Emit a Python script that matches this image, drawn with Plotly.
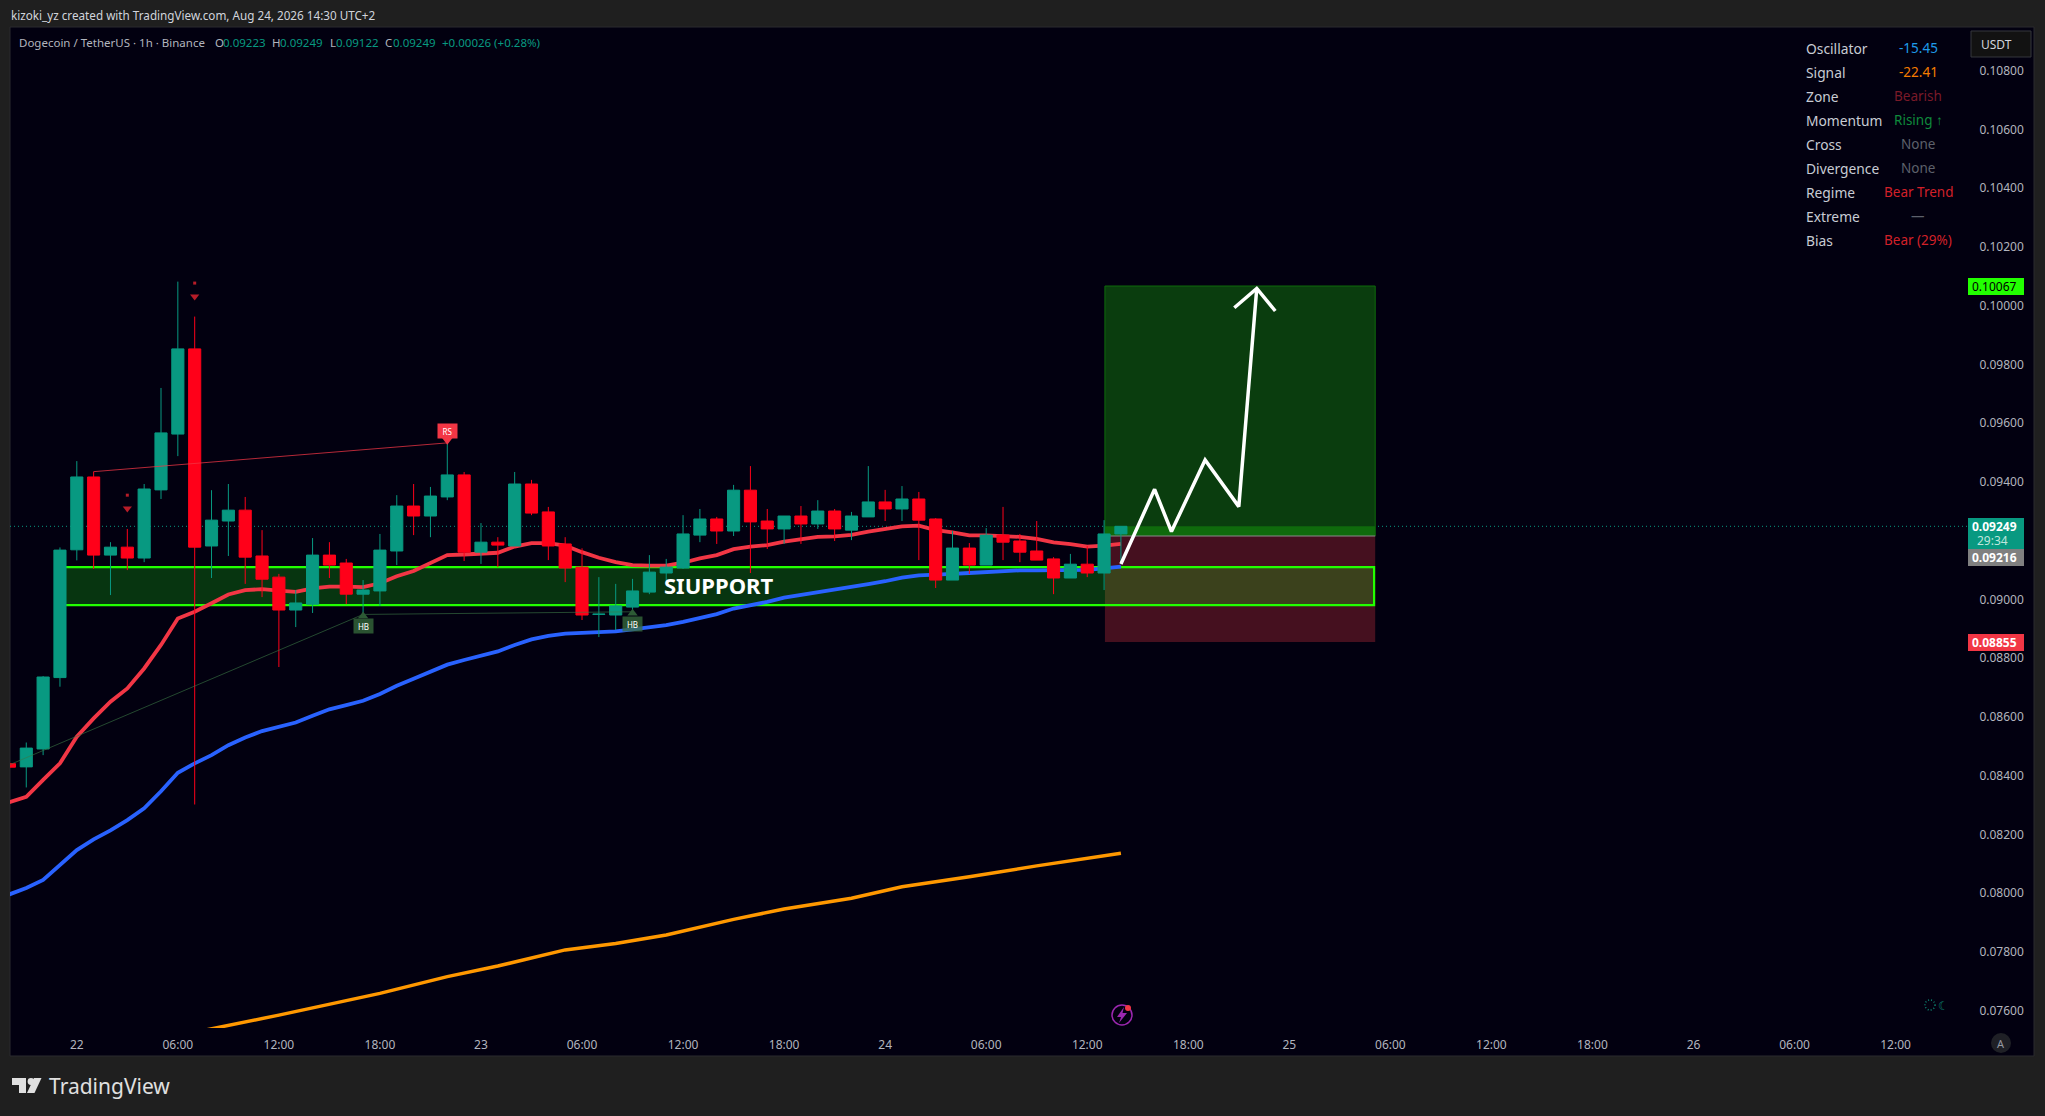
import pandas as pd
import plotly.graph_objects as go

FONT = "Noto Sans"
BG = "#020010"
UP = "#089981"
DOWN = "#ff0019"

# hourly candles, first one is Aug 21 20:00
times = pd.date_range("2026-08-21 20:00", periods=67, freq="h")
opens = [
    0.08441, 0.08430, 0.08491, 0.08734, 0.09169, 0.09417, 0.09151, 0.09178, 0.09141, 0.09373,
    0.09563, 0.09853, 0.09182, 0.09267, 0.09304, 0.09148, 0.09076, 0.08964, 0.08984, 0.09151,
    0.09124, 0.09018, 0.09029, 0.09165, 0.09318, 0.09284, 0.09349, 0.09424, 0.09161, 0.09195,
    0.09182, 0.09393, 0.09298, 0.09189, 0.09110, 0.08949, 0.08947, 0.08974, 0.09025, 0.09090,
    0.09107, 0.09219, 0.09274, 0.09233, 0.09372, 0.09267, 0.09240, 0.09284, 0.09257, 0.09301,
    0.09236, 0.09281, 0.09332, 0.09308, 0.09342, 0.09274, 0.09066, 0.09175, 0.09117, 0.09219,
    0.09199, 0.09165, 0.09138, 0.09073, 0.09120, 0.09090, 0.09223,
]
highs = [
    0.08445, 0.08513, 0.08739, 0.09177, 0.09471, 0.09435, 0.09195, 0.09240, 0.09393, 0.09720,
    0.10082, 0.09963, 0.09372, 0.09393, 0.09349, 0.09236, 0.09087, 0.09032, 0.09209, 0.09195,
    0.09138, 0.09066, 0.09223, 0.09355, 0.09393, 0.09383, 0.09531, 0.09434, 0.09260, 0.09212,
    0.09434, 0.09407, 0.09315, 0.09212, 0.09174, 0.09076, 0.09053, 0.09070, 0.09151, 0.09138,
    0.09287, 0.09308, 0.09281, 0.09390, 0.09454, 0.09308, 0.09284, 0.09318, 0.09338, 0.09308,
    0.09298, 0.09454, 0.09373, 0.09386, 0.09366, 0.09277, 0.09233, 0.09192, 0.09243, 0.09315,
    0.09223, 0.09267, 0.09144, 0.09155, 0.09182, 0.09270, 0.09249,
]
lows = [
    0.08425, 0.08360, 0.08470, 0.08703, 0.09133, 0.09104, 0.09015, 0.09100, 0.09127, 0.09342,
    0.09488, 0.08302, 0.09073, 0.09148, 0.09053, 0.09008, 0.08770, 0.08906, 0.08954, 0.09073,
    0.08984, 0.08947, 0.08978, 0.09117, 0.09219, 0.09212, 0.09338, 0.09131, 0.09121, 0.09110,
    0.09182, 0.09287, 0.09134, 0.09059, 0.08930, 0.08872, 0.08896, 0.08961, 0.09018, 0.09055,
    0.09104, 0.09195, 0.09189, 0.09216, 0.09090, 0.09172, 0.09189, 0.09189, 0.09240, 0.09199,
    0.09202, 0.09281, 0.09267, 0.09267, 0.09134, 0.09039, 0.09066, 0.09087, 0.09117, 0.09134,
    0.09127, 0.09134, 0.09018, 0.09073, 0.09076, 0.09032, 0.09122,
]
closes = [
    0.08429, 0.08494, 0.08736, 0.09168, 0.09417, 0.09151, 0.09178, 0.09141, 0.09376, 0.09567,
    0.09853, 0.09178, 0.09270, 0.09304, 0.09144, 0.09069, 0.08964, 0.08988, 0.09151, 0.09117,
    0.09018, 0.09032, 0.09168, 0.09318, 0.09284, 0.09352, 0.09424, 0.09161, 0.09195, 0.09185,
    0.09393, 0.09294, 0.09182, 0.09107, 0.08947, 0.08950, 0.08978, 0.09029, 0.09093, 0.09110,
    0.09223, 0.09274, 0.09233, 0.09372, 0.09264, 0.09240, 0.09284, 0.09257, 0.09301, 0.09240,
    0.09284, 0.09332, 0.09308, 0.09342, 0.09270, 0.09066, 0.09175, 0.09117, 0.09219, 0.09195,
    0.09161, 0.09134, 0.09073, 0.09120, 0.09090, 0.09223, 0.09249,
]
ema_red = [
    0.08310, 0.08328, 0.08386, 0.08442, 0.08533, 0.08595, 0.08652, 0.08697, 0.08765, 0.08845,
    0.08935, 0.08958, 0.08987, 0.09017, 0.09032, 0.09035, 0.09030, 0.09026, 0.09038, 0.09044,
    0.09044, 0.09042, 0.09055, 0.09079, 0.09097, 0.09123, 0.09151, 0.09153, 0.09157, 0.09159,
    0.09180, 0.09192, 0.09192, 0.09183, 0.09161, 0.09142, 0.09127, 0.09117, 0.09115, 0.09115,
    0.09125, 0.09140, 0.09151, 0.09171, 0.09180, 0.09185, 0.09197, 0.09205, 0.09213, 0.09215,
    0.09220, 0.09231, 0.09239, 0.09249, 0.09251, 0.09236, 0.09228, 0.09218, 0.09218, 0.09215,
    0.09213, 0.09206, 0.09194, 0.09188, 0.09180, 0.09183, 0.09189,
]
ema_blue = [
    0.07996, 0.08018, 0.08045, 0.08098, 0.08147, 0.08183, 0.08214, 0.08249, 0.08289, 0.08347,
    0.08410, 0.08442, 0.08470, 0.08504, 0.08530, 0.08552, 0.08567, 0.08581, 0.08604, 0.08626,
    0.08640, 0.08655, 0.08678, 0.08706, 0.08730, 0.08754, 0.08778, 0.08794, 0.08808, 0.08823,
    0.08845, 0.08864, 0.08876, 0.08884, 0.08886, 0.08888, 0.08891, 0.08898, 0.08905, 0.08913,
    0.08924, 0.08938, 0.08950, 0.08969, 0.08980, 0.08992, 0.09006, 0.09015, 0.09025, 0.09032,
    0.09040, 0.09052, 0.09062, 0.09074, 0.09082, 0.09083, 0.09087, 0.09090, 0.09093, 0.09097,
    0.09099, 0.09099, 0.09099, 0.09100, 0.09101, 0.09106, 0.09112,
]
ema_orange_t = [
    "2026-08-22 06:00", "2026-08-22 08:00", "2026-08-22 12:00", "2026-08-22 18:00", "2026-08-22 22:00",
    "2026-08-23 01:00", "2026-08-23 05:00", "2026-08-23 08:00", "2026-08-23 11:00", "2026-08-23 15:00",
    "2026-08-23 18:00", "2026-08-23 22:00", "2026-08-24 01:00", "2026-08-24 05:00", "2026-08-24 09:00",
    "2026-08-24 14:00",
]
ema_orange = [
    0.07515, 0.07538, 0.07585, 0.07659, 0.07716, 0.07752, 0.07807, 0.07829, 0.07858, 0.07911,
    0.07946, 0.07983, 0.08022, 0.08056, 0.08093, 0.08136,
]

# hand drawn path and its arrow head
path_t = ["2026-08-24 14:00", "2026-08-24 16:00", "2026-08-24 17:00", "2026-08-24 19:00", "2026-08-24 21:00", "2026-08-24 22:04"]
path_p = [0.09121, 0.09375, 0.09231, 0.09475, 0.09316, 0.10059]
head_t = ["2026-08-24 20:44", "2026-08-24 22:04", "2026-08-24 23:10"]
head_p = [0.09993, 0.10059, 0.09982]

rs_line_t = ["2026-08-22 01:00", "2026-08-22 22:00"]
rs_line_p = [0.09435, 0.09533]
hb_line_t = ["2026-08-21 20:00", "2026-08-22 17:00", "2026-08-23 09:00"]
hb_line_p = [0.08437, 0.08949, 0.08958]

# support box and long position
support_top, support_bottom = 0.09110, 0.08981
support_start, support_end = "2026-08-21 23:00", "2026-08-25 05:02"
pos_start, pos_end = "2026-08-24 13:03", "2026-08-25 05:06"
pos_target, pos_entry, pos_stop = 0.10067, 0.09216, 0.08855
last_price = 0.09249

price_ticks = [0.108, 0.106, 0.104, 0.102, 0.100, 0.098, 0.096, 0.094, 0.090, 0.088, 0.086, 0.084, 0.082, 0.080, 0.078, 0.076]
time_ticks = pd.date_range("2026-08-22 00:00", "2026-08-26 12:00", freq="6h")
time_labels = ["22", "06:00", "12:00", "18:00", "23", "06:00", "12:00", "18:00", "24", "06:00", "12:00", "18:00",
               "25", "06:00", "12:00", "18:00", "26", "06:00", "12:00"]

table_rows = ["Oscillator", "Signal", "Zone", "Momentum", "Cross", "Divergence", "Regime", "Extreme", "Bias"]
table_values = ["-15.45", "-22.41", "Bearish", "Rising ↑", "None", "None", "Bear Trend", "—", "Bear (29%)"]
table_colors = ["#1e9be8", "#f57c00", "#7a1a28", "#0f8a3c", "#5d606b", "#5d606b", "#d32029", "#5d606b", "#d32029"]

legend_parts = [
    ("Dogecoin / TetherUS · 1h · Binance", 18, "#b2b5be"), ("O", 214, "#b2b5be"), ("0.09223", 222, UP),
    ("H", 271, "#b2b5be"), ("0.09249", 279, UP), ("L", 329, "#b2b5be"), ("0.09122", 335, UP),
    ("C", 384, "#b2b5be"), ("0.09249", 392, UP), ("+0.00026 (+0.28%)", 441, UP),
]

# plot area in page pixels
W, H = 2045, 1116
L, R, T, B = 10, 1968, 28, 1028


def fx(px):
    return (px - L) / (R - L)


def fy(py):
    return 1 - (py - T) / (B - T)


def page_text(text, px, py, size=12, color="#d1d4dc", anchor="left", bold=False):
    return dict(
        text=f"<b>{text}</b>" if bold else text, x=fx(px), y=fy(py), xref="paper", yref="paper",
        xanchor=anchor, yanchor="middle", showarrow=False, borderpad=0,
        font=dict(family=FONT, size=size, color=color),
    )


def page_rect(x0, y0, x1, y1, fill, line=None, layer="above"):
    return dict(
        type="rect", xref="paper", yref="paper", x0=fx(x0), x1=fx(x1), y0=fy(y0), y1=fy(y1),
        fillcolor=fill, line=dict(color=line or fill, width=1 if line else 0), layer=layer,
    )


def page_circle(cx, cy, r, fill, line=None, dash=None):
    return dict(
        type="circle", xref="paper", yref="paper", x0=fx(cx - r), x1=fx(cx + r), y0=fy(cy - r), y1=fy(cy + r),
        fillcolor=fill, line=dict(color=line or fill, width=1.5 if line else 0, dash=dash), layer="above",
    )


def page_path(points, fill):
    d = "M" + " L".join(f"{fx(x)},{fy(y)}" for x, y in points) + " Z"
    return dict(type="path", xref="paper", yref="paper", path=d, fillcolor=fill, line=dict(width=0), layer="above")


def data_rect(x0, x1, y0, y1, fill, line_color=None, width=0):
    return dict(
        type="rect", xref="x", yref="y", x0=x0, x1=x1, y0=y0, y1=y1, fillcolor=fill,
        line=dict(color=line_color or fill, width=width), layer="below",
    )


fig = go.Figure()

# emas sit on the base axes so the candles cover them
fig.add_trace(go.Scatter(x=ema_orange_t, y=ema_orange, mode="lines", line=dict(color="#ff9800", width=3.5)))
fig.add_trace(go.Scatter(x=times, y=ema_blue, mode="lines", line=dict(color="#2962ff", width=3.8)))
fig.add_trace(go.Scatter(x=times, y=ema_red, mode="lines", line=dict(color="#f23645", width=3.8)))

fig.add_trace(go.Candlestick(
    x=times, open=opens, high=highs, low=lows, close=closes, xaxis="x2", yaxis="y2", whiskerwidth=0,
    increasing=dict(line=dict(color=UP, width=1), fillcolor=UP),
    decreasing=dict(line=dict(color=DOWN, width=1), fillcolor=DOWN),
))

fig.add_trace(go.Scatter(x=rs_line_t, y=rs_line_p, mode="lines", xaxis="x2", yaxis="y2",
                         line=dict(color="rgba(242,54,69,0.75)", width=1)))
fig.add_trace(go.Scatter(x=hb_line_t, y=hb_line_p, mode="lines", xaxis="x2", yaxis="y2",
                         line=dict(color="rgba(60,120,70,0.6)", width=1)))
fig.add_trace(go.Scatter(x=path_t, y=path_p, mode="lines", xaxis="x2", yaxis="y2",
                         line=dict(color="#ffffff", width=3.5)))
fig.add_trace(go.Scatter(x=head_t, y=head_p, mode="lines", xaxis="x2", yaxis="y2",
                         line=dict(color="#ffffff", width=3.5)))

# pivots tips and the small signal marks
fig.add_trace(go.Scatter(x=["2026-08-22 22:00"], y=[0.09542], mode="markers", xaxis="x2", yaxis="y2",
                         marker=dict(symbol="triangle-down", size=9, color="#f23645")))
fig.add_trace(go.Scatter(x=["2026-08-22 17:00", "2026-08-23 09:00"], y=[0.08944, 0.08953], mode="markers",
                         xaxis="x2", yaxis="y2", marker=dict(symbol="triangle-up", size=9, color="#2d5a35")))
fig.add_trace(go.Scatter(x=["2026-08-22 03:00", "2026-08-22 07:00"], y=[0.09310, 0.10031], mode="markers",
                         xaxis="x2", yaxis="y2", marker=dict(symbol="triangle-down", size=8, color="#b71c28")))
fig.add_trace(go.Scatter(x=["2026-08-22 03:00", "2026-08-22 07:00"], y=[0.09355, 0.10077], mode="markers",
                         xaxis="x2", yaxis="y2", marker=dict(symbol="square", size=3, color="#b71c28")))

shapes = [
    page_rect(10, 27, 2034, 1056, BG, "#2a2a2e", layer="below"),
    data_rect(pos_start, pos_end, pos_entry, pos_target, "#0a3d0e", "#0f6a0c", 1),
    data_rect(pos_start, pos_end, pos_stop, pos_entry, "#45101f"),
    data_rect(pos_start, pos_end, pos_entry, last_price, "#0f6a0c"),
    dict(type="line", xref="x", yref="y", x0=pos_start, x1=pos_end, y0=pos_entry, y1=pos_entry,
         line=dict(color="#8a8a8a", width=1), layer="below"),
    data_rect(support_start, support_end, support_bottom, support_top, "rgba(29,236,16,0.224)", "#22ff00", 2.2),
    dict(type="line", xref="paper", yref="y", x0=0, x1=1, y0=last_price, y1=last_price,
         line=dict(color=UP, width=1, dash="1px,3px"), layer="below"),
    # price tags on the axis
    page_rect(1968, 278, 2024, 295, "#22ff00"),
    page_rect(1968, 518, 2024, 549, UP),
    page_rect(1968, 549, 2024, 566, "#808080"),
    page_rect(1968, 634, 2024, 651, "#f23645"),
    # usdt button and round badges
    page_rect(1971, 31, 2031, 57, "#121212", "#34363c"),
    page_circle(2001, 1043, 10, "#1f2026"),
    page_circle(1122, 1015, 10, BG, "#9c27b0"),
    page_circle(1128, 1008, 3, "#f23645"),
    page_path([(1124, 1007), (1117, 1017), (1121, 1017), (1119, 1023), (1127, 1013), (1122.5, 1013)], "#9c27b0"),
    # session icon
    page_circle(1930, 1005, 5, "rgba(0,0,0,0)", "#0e8a76", dash="1px,2px"),
    # tradingview mark
    page_path([(12, 1078), (26, 1078), (26, 1093), (19, 1093), (19, 1085), (12, 1085)], "#e0e0e0"),
    page_circle(31, 1081.5, 3.4, "#e0e0e0"),
    page_path([(34, 1078), (41.5, 1078), (34.5, 1093), (27, 1093)], "#e0e0e0"),
]

annotations = [
    page_text("kizoki_yz created with TradingView.com, Aug 24, 2026 14:30 UTC+2", 9.5, 14.7, 11.7, "#d1d4dc"),
    page_text("0.10067", 2018, 286.5, 12, "#000000", anchor="right"),
    page_text("0.09249", 2018, 526.7, 12, "#ffffff", anchor="right", bold=True),
    page_text("29:34", 1976, 540.7, 12, "#bfe6dd"),
    page_text("0.09216", 2018, 557, 12, "#ffffff", anchor="right", bold=True),
    page_text("0.08855", 2018, 642.7, 12, "#ffffff", anchor="right", bold=True),
    page_text("USDT", 1980, 44.5, 12, "#d1d4dc"),
    page_text("A", 2001, 1043, 11, "#9598a1", anchor="center"),
    page_text("☾", 1943, 1005, 12, "#0e8a76", anchor="center"),
    page_text("TradingView", 48, 1086, 21, "#e0e0e0"),
    dict(text="<b>SIUPPORT</b>", x="2026-08-23 10:48", y=0.09049, xref="x", yref="y", xanchor="left", yanchor="middle",
         showarrow=False, borderpad=0, font=dict(family=FONT, size=22, color="#ffffff")),
]
for text, px, color in legend_parts:
    annotations.append(page_text(text, px, 42, 11.5, color))
for i, (row, value, color) in enumerate(zip(table_rows, table_values, table_colors)):
    py = 48.3 + i * 24
    annotations.append(page_text(row, 1805, py, 13.8, "#c8ccd4"))
    annotations.append(page_text(value, 1918, py, 13.5, color, anchor="center"))
# pivot tags
for text, t, p, bg in [
    ("RS", "2026-08-22 22:00", 0.09572, "#f23645"),
    ("HB", "2026-08-22 17:00", 0.08908, "rgba(56,110,60,0.75)"),
    ("HB", "2026-08-23 09:00", 0.08916, "rgba(56,110,60,0.75)"),
]:
    annotations.append(dict(
        text=text, x=t, y=p, xref="x", yref="y", showarrow=False, width=19, height=14, bgcolor=bg, borderpad=0,
        font=dict(family=FONT, size=8, color="#ffffff"),
    ))

xrange = ["2026-08-21 20:02", "2026-08-26 16:18"]
yrange = [0.075411, 0.109454]

fig.update_layout(
    width=W, height=H, showlegend=False, hovermode=False,
    paper_bgcolor="#1f1f1f", plot_bgcolor=BG,
    margin=dict(l=L, r=W - R, t=T, b=H - B, pad=0),
    shapes=shapes, annotations=annotations,
    boxgap=0.28, boxgroupgap=0,
    xaxis=dict(
        type="date", range=xrange, showgrid=False, zeroline=False, showline=False, rangeslider=dict(visible=False),
        tickmode="array", tickvals=list(time_ticks), ticktext=time_labels, ticks="outside", ticklen=6,
        tickcolor="rgba(0,0,0,0)", tickfont=dict(family=FONT, size=12, color="#b2b5be"),
    ),
    yaxis=dict(
        range=yrange, side="right", showgrid=False, zeroline=False, showline=False,
        tickmode="array", tickvals=price_ticks, ticktext=[f"{p:.5f}" for p in price_ticks], ticks="outside",
        ticklen=8, tickcolor="rgba(0,0,0,0)", tickfont=dict(family=FONT, size=12, color="#b2b5be"),
    ),
    xaxis2=dict(type="date", range=xrange, overlaying="x", anchor="y2", visible=False, rangeslider=dict(visible=False)),
    yaxis2=dict(range=yrange, overlaying="y", anchor="x2", side="right", visible=False),
)

# page margin would shift the chart by 8px
fig.write_html(
    "out.html",
    config={"displayModeBar": False},
    post_script="document.body.style.margin='0';document.body.style.background='#1f1f1f';",
)
